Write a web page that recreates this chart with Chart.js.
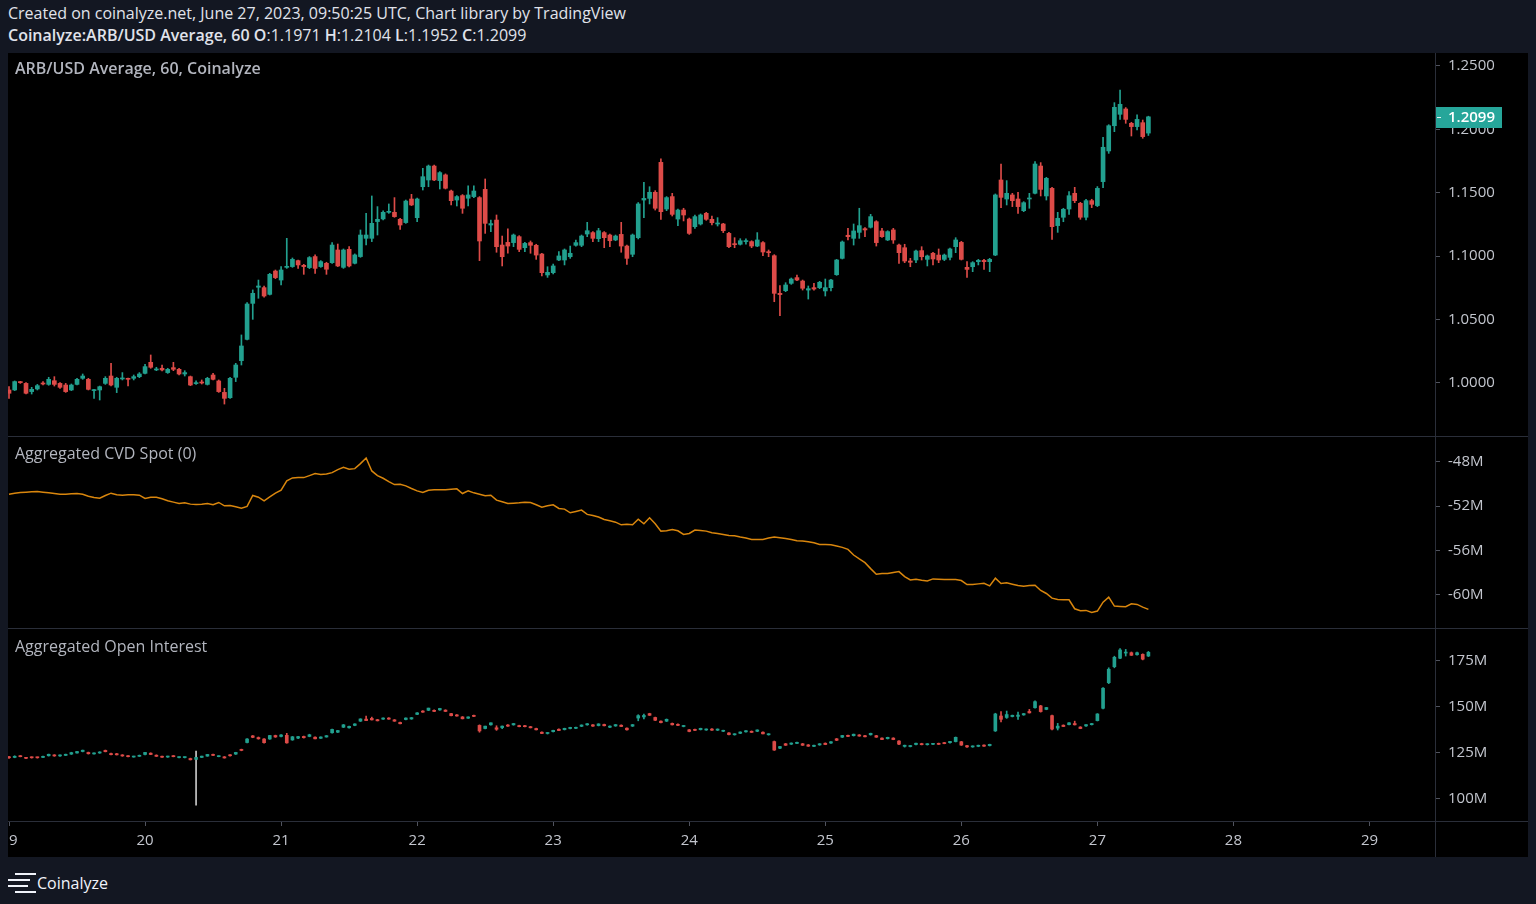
<!DOCTYPE html>
<html>
<head>
<meta charset="utf-8">
<script src="https://cdn.jsdelivr.net/npm/chart.js@4.4.1/dist/chart.umd.min.js"></script>
<style>
	html, body { margin: 0; padding: 0; }
	body { width: 1536px; height: 904px; background: #131722; position: relative; overflow: hidden; font-family: "Open Sans", sans-serif; }
	.line { position: absolute; left: 8px; font-size: 16px; line-height: 20px; color: #e0e3eb; white-space: nowrap; }
	.line b { font-weight: 600; }
	#frame { position: absolute; left: 8px; top: 53px; width: 1520px; height: 804px; background: #000; }
	.pane-title { position: absolute; left: 15px; font-size: 16px; line-height: 20px; color: #b2b5be; white-space: nowrap; }
	#footer { position: absolute; left: 37px; top: 873px; font-size: 16px; line-height: 20px; color: #f0f3fa; }
	.logo { position: absolute; height: 2px; background: #f0f3fa; }
</style>
</head>
<body>
<div class="line" style="top:3px">Created on coinalyze.net, June 27, 2023, 09:50:25 UTC, Chart library by TradingView</div>
<div class="line" style="top:25px"><b>Coinalyze:ARB/USD Average, 60 O</b>:1.1971 <b>H</b>:1.2104 <b>L</b>:1.1952 <b>C</b>:1.2099</div>
<div id="frame"><canvas id="chart" width="1520" height="804"></canvas></div>
<div class="pane-title" style="top:58px;font-weight:600">ARB/USD Average, 60, Coinalyze</div>
<div class="pane-title" style="top:443px">Aggregated CVD Spot (0)</div>
<div class="pane-title" style="top:636px">Aggregated Open Interest</div>
<div class="logo" style="left:15px;top:873px;width:21px"></div>
<div class="logo" style="left:8px;top:879px;width:22px"></div>
<div class="logo" style="left:8px;top:885px;width:20px"></div>
<div class="logo" style="left:15px;top:891px;width:21px"></div>
<div id="footer">Coinalyze</div>
<script>
// hourly candles, June 19 00:00 UTC .. June 27 09:00 UTC
const firstDay = 19;
const dayTicks = [19, 20, 21, 22, 23, 24, 25, 26, 27, 28, 29];
const priceTicks = [1.0, 1.05, 1.1, 1.15, 1.2, 1.25];
const cvdTicks = [-60, -56, -52, -48];
const oiTicks = [100, 125, 150, 175];

// ARB/USD [open, high, low, close]
const price = [
	[0.9945, 0.9971, 0.9879, 0.9919], [0.9945, 1.0016, 0.9940, 1.0011], [1.0008, 1.0013, 0.9997, 1.0003], [0.9997, 1.0003, 0.9913, 0.9919],
	[0.9932, 0.9966, 0.9913, 0.9950], [0.9953, 0.9989, 0.9945, 0.9979], [1.0000, 1.0011, 0.9984, 0.9992], [0.9989, 1.0045, 0.9982, 1.0029],
	[1.0018, 1.0050, 0.9976, 0.9989], [0.9997, 1.0003, 0.9958, 0.9966], [0.9984, 0.9997, 0.9926, 0.9932], [0.9945, 0.9992, 0.9940, 0.9984],
	[0.9989, 1.0037, 0.9984, 1.0029], [1.0037, 1.0071, 1.0029, 1.0055], [1.0029, 1.0037, 0.9945, 0.9950], [0.9940, 0.9950, 0.9879, 0.9945],
	[0.9945, 0.9976, 0.9866, 0.9971], [0.9997, 1.0050, 0.9989, 1.0037], [1.0055, 1.0155, 0.9976, 0.9984], [0.9966, 1.0045, 0.9924, 1.0037],
	[1.0032, 1.0082, 1.0024, 1.0039], [1.0034, 1.0039, 0.9976, 1.0029], [1.0037, 1.0063, 1.0024, 1.0050], [1.0050, 1.0082, 1.0042, 1.0071],
	[1.0076, 1.0147, 1.0071, 1.0129], [1.0163, 1.0221, 1.0116, 1.0124], [1.0103, 1.0124, 1.0097, 1.0110], [1.0116, 1.0142, 1.0095, 1.0103],
	[1.0082, 1.0116, 1.0076, 1.0108], [1.0121, 1.0163, 1.0097, 1.0108], [1.0108, 1.0116, 1.0063, 1.0071], [1.0071, 1.0097, 1.0055, 1.0082],
	[1.0050, 1.0055, 0.9979, 0.9984], [0.9995, 1.0018, 0.9989, 1.0000], [1.0008, 1.0024, 0.9992, 1.0000], [0.9989, 1.0045, 0.9984, 1.0037],
	[1.0063, 1.0076, 1.0024, 1.0029], [1.0016, 1.0024, 0.9926, 0.9932], [0.9926, 0.9958, 0.9834, 0.9879], [0.9884, 1.0045, 0.9879, 1.0037],
	[1.0045, 1.0155, 1.0011, 1.0142], [1.0176, 1.0379, 1.0142, 1.0292], [1.0344, 1.0634, 1.0339, 1.0623], [1.0628, 1.0734, 1.0502, 1.0707],
	[1.0755, 1.0812, 1.0668, 1.0765], [1.0752, 1.0765, 1.0676, 1.0686], [1.0699, 1.0865, 1.0694, 1.0857], [1.0883, 1.0891, 1.0823, 1.0831],
	[1.0812, 1.0918, 1.0773, 1.0891], [1.0912, 1.1141, 1.0904, 1.0920], [1.0918, 1.0986, 1.0912, 1.0975], [1.0965, 1.0970, 1.0904, 1.0931],
	[1.0928, 1.0936, 1.0857, 1.0918], [1.0910, 1.0997, 1.0902, 1.0989], [1.0997, 1.1010, 1.0865, 1.0904], [1.0918, 1.0965, 1.0912, 1.0957],
	[1.0944, 1.0952, 1.0857, 1.0897], [1.0949, 1.1107, 1.0944, 1.1088], [1.1049, 1.1096, 1.0918, 1.0923], [1.0912, 1.1057, 1.0904, 1.1049],
	[1.1054, 1.1075, 1.0915, 1.0923], [1.0944, 1.1018, 1.0939, 1.1010], [1.0997, 1.1207, 1.0991, 1.1167], [1.1141, 1.1338, 1.1088, 1.1167],
	[1.1141, 1.1475, 1.1115, 1.1259], [1.1273, 1.1391, 1.1167, 1.1291], [1.1294, 1.1357, 1.1286, 1.1346], [1.1346, 1.1412, 1.1338, 1.1354],
	[1.1346, 1.1462, 1.1307, 1.1312], [1.1291, 1.1299, 1.1212, 1.1246], [1.1265, 1.1443, 1.1259, 1.1435], [1.1451, 1.1488, 1.1399, 1.1404],
	[1.1304, 1.1459, 1.1273, 1.1451], [1.1548, 1.1693, 1.1522, 1.1627], [1.1601, 1.1719, 1.1548, 1.1711], [1.1711, 1.1719, 1.1596, 1.1601],
	[1.1596, 1.1667, 1.1530, 1.1659], [1.1641, 1.1649, 1.1530, 1.1536], [1.1514, 1.1522, 1.1404, 1.1438], [1.1443, 1.1478, 1.1396, 1.1470],
	[1.1478, 1.1486, 1.1338, 1.1378], [1.1457, 1.1554, 1.1396, 1.1483], [1.1470, 1.1554, 1.1462, 1.1514], [1.1462, 1.1470, 1.0965, 1.1120],
	[1.1527, 1.1609, 1.1180, 1.1259], [1.1246, 1.1285, 1.1193, 1.1257], [1.1285, 1.1325, 1.1031, 1.1075], [1.1088, 1.1159, 1.0923, 1.0996],
	[1.1109, 1.1215, 1.1023, 1.1080], [1.1107, 1.1175, 1.1075, 1.1167], [1.1154, 1.1162, 1.1036, 1.1054], [1.1067, 1.1109, 1.1036, 1.1101],
	[1.1107, 1.1120, 1.1023, 1.1086], [1.1086, 1.1094, 1.0975, 1.1009], [1.1017, 1.1023, 1.0844, 1.0870], [1.0852, 1.0917, 1.0833, 1.0873],
	[1.0870, 1.0938, 1.0860, 1.0923], [1.0970, 1.1036, 1.0965, 1.1002], [1.0970, 1.1057, 1.0931, 1.1049], [1.0996, 1.1080, 1.0983, 1.1023],
	[1.1086, 1.1128, 1.1080, 1.1107], [1.1086, 1.1167, 1.1075, 1.1159], [1.1175, 1.1267, 1.1154, 1.1201], [1.1186, 1.1194, 1.1115, 1.1141],
	[1.1138, 1.1220, 1.1115, 1.1201], [1.1186, 1.1194, 1.1067, 1.1146], [1.1167, 1.1175, 1.1075, 1.1122], [1.1128, 1.1167, 1.1122, 1.1159],
	[1.1172, 1.1267, 1.1031, 1.1080], [1.1080, 1.1088, 1.0936, 1.0983], [1.1015, 1.1175, 1.0996, 1.1167], [1.1146, 1.1423, 1.1136, 1.1412],
	[1.1443, 1.1583, 1.1304, 1.1456], [1.1456, 1.1548, 1.1412, 1.1504], [1.1504, 1.1517, 1.1364, 1.1378], [1.1740, 1.1767, 1.1291, 1.1351],
	[1.1372, 1.1470, 1.1359, 1.1462], [1.1470, 1.1496, 1.1317, 1.1330], [1.1293, 1.1372, 1.1241, 1.1364], [1.1364, 1.1378, 1.1278, 1.1325],
	[1.1293, 1.1301, 1.1172, 1.1180], [1.1233, 1.1325, 1.1220, 1.1312], [1.1254, 1.1333, 1.1246, 1.1325], [1.1338, 1.1346, 1.1283, 1.1291],
	[1.1291, 1.1317, 1.1246, 1.1264], [1.1254, 1.1304, 1.1238, 1.1262], [1.1254, 1.1259, 1.1186, 1.1201], [1.1180, 1.1188, 1.1067, 1.1075],
	[1.1099, 1.1146, 1.1067, 1.1091], [1.1094, 1.1138, 1.1088, 1.1122], [1.1115, 1.1136, 1.1094, 1.1122], [1.1115, 1.1122, 1.1067, 1.1080],
	[1.1080, 1.1186, 1.1075, 1.1128], [1.1107, 1.1115, 1.1004, 1.1033], [1.1036, 1.1049, 1.0996, 1.1028], [1.1004, 1.1012, 1.0641, 1.0707],
	[1.0707, 1.0768, 1.0531, 1.0697], [1.0728, 1.0791, 1.0720, 1.0773], [1.0786, 1.0828, 1.0778, 1.0820], [1.0831, 1.0852, 1.0807, 1.0812],
	[1.0804, 1.0812, 1.0733, 1.0747], [1.0733, 1.0765, 1.0662, 1.0744], [1.0752, 1.0786, 1.0733, 1.0741], [1.0752, 1.0802, 1.0744, 1.0794],
	[1.0726, 1.0820, 1.0686, 1.0752], [1.0752, 1.0818, 1.0726, 1.0812], [1.0854, 1.0975, 1.0849, 1.0970], [1.0983, 1.1120, 1.0978, 1.1112],
	[1.1165, 1.1220, 1.1128, 1.1154], [1.1141, 1.1254, 1.1088, 1.1199], [1.1188, 1.1378, 1.1141, 1.1241], [1.1217, 1.1225, 1.1154, 1.1207],
	[1.1228, 1.1330, 1.1222, 1.1312], [1.1272, 1.1280, 1.1080, 1.1107], [1.1199, 1.1220, 1.1149, 1.1154], [1.1128, 1.1201, 1.1123, 1.1194],
	[1.1207, 1.1220, 1.1101, 1.1128], [1.1088, 1.1096, 1.0944, 1.1028], [1.1067, 1.1094, 1.0949, 1.0962], [1.0962, 1.0983, 1.0917, 1.0952],
	[1.0970, 1.1049, 1.0949, 1.1041], [1.1044, 1.1075, 1.0970, 1.0996], [1.0975, 1.1009, 1.0923, 1.1002], [1.1023, 1.1031, 1.0931, 1.0978],
	[1.1009, 1.1057, 1.0949, 1.0970], [1.0975, 1.1017, 1.0965, 1.1009], [1.0991, 1.1065, 1.0970, 1.1057], [1.1075, 1.1146, 1.1028, 1.1128],
	[1.1109, 1.1117, 1.0970, 1.0975], [1.0912, 1.0957, 1.0833, 1.0896], [1.0917, 1.0957, 1.0878, 1.0949], [1.0957, 1.0975, 1.0931, 1.0967],
	[1.0967, 1.0975, 1.0896, 1.0957], [1.0957, 1.0983, 1.0878, 1.0975], [1.1009, 1.1491, 1.1004, 1.1483], [1.1601, 1.1727, 1.1383, 1.1464],
	[1.1451, 1.1596, 1.1404, 1.1496], [1.1483, 1.1496, 1.1391, 1.1438], [1.1451, 1.1504, 1.1338, 1.1391], [1.1359, 1.1430, 1.1351, 1.1422],
	[1.1451, 1.1496, 1.1378, 1.1459], [1.1496, 1.1746, 1.1491, 1.1727], [1.1711, 1.1738, 1.1475, 1.1527], [1.1475, 1.1622, 1.1443, 1.1614],
	[1.1535, 1.1543, 1.1133, 1.1233], [1.1241, 1.1346, 1.1188, 1.1299], [1.1307, 1.1378, 1.1272, 1.1370], [1.1372, 1.1509, 1.1330, 1.1477],
	[1.1496, 1.1543, 1.1422, 1.1438], [1.1417, 1.1425, 1.1291, 1.1307], [1.1307, 1.1449, 1.1286, 1.1438], [1.1438, 1.1449, 1.1383, 1.1409],
	[1.1399, 1.1549, 1.1391, 1.1535], [1.1588, 1.1937, 1.1540, 1.1859], [1.1830, 1.2037, 1.1811, 1.2029], [1.2029, 1.2211, 1.1982, 1.2174],
	[1.2119, 1.2311, 1.2079, 1.2198], [1.2161, 1.2172, 1.2048, 1.2079], [1.2048, 1.2056, 1.1948, 1.2022], [1.2022, 1.2114, 1.1995, 1.2079],
	[1.2053, 1.2074, 1.1930, 1.1943], [1.1971, 1.2104, 1.1952, 1.2099],
];

// aggregated spot CVD, millions
const cvd = [
	-50.91, -50.82, -50.76, -50.73, -50.70, -50.67, -50.73, -50.79, -50.85, -50.91,
	-50.91, -50.88, -50.85, -50.91, -51.09, -51.21, -51.27, -51.03, -50.82, -50.97,
	-51.00, -50.97, -50.97, -51.00, -51.30, -51.18, -51.18, -51.33, -51.51, -51.63,
	-51.75, -51.69, -51.81, -51.84, -51.81, -51.75, -51.87, -51.66, -51.96, -51.93,
	-52.05, -52.17, -52.02, -51.03, -51.18, -51.51, -51.15, -50.82, -50.55, -49.71,
	-49.44, -49.41, -49.41, -49.23, -49.05, -49.14, -49.08, -48.96, -48.69, -48.48,
	-48.66, -48.60, -48.15, -47.64, -48.81, -49.23, -49.47, -49.77, -50.04, -50.01,
	-50.16, -50.40, -50.61, -50.76, -50.55, -50.52, -50.52, -50.52, -50.46, -50.43,
	-50.85, -50.61, -50.79, -50.91, -51.06, -51.00, -51.45, -51.60, -51.75, -51.72,
	-51.69, -51.63, -51.66, -51.87, -52.08, -51.96, -51.87, -52.20, -52.26, -52.59,
	-52.47, -52.35, -52.74, -52.83, -52.98, -53.20, -53.32, -53.44, -53.68, -53.62,
	-53.68, -53.17, -53.59, -53.05, -53.59, -54.25, -54.22, -54.10, -54.22, -54.55,
	-54.46, -54.16, -54.19, -54.25, -54.40, -54.46, -54.55, -54.64, -54.67, -54.79,
	-54.88, -55.00, -55.00, -55.00, -54.88, -54.79, -54.85, -54.91, -55.00, -55.12,
	-55.15, -55.21, -55.30, -55.45, -55.45, -55.48, -55.60, -55.72, -55.90, -56.41,
	-56.77, -57.10, -57.64, -58.15, -58.09, -58.09, -58.00, -57.91, -58.36, -58.66,
	-58.60, -58.69, -58.75, -58.57, -58.60, -58.63, -58.63, -58.63, -58.72, -59.08,
	-59.08, -59.02, -58.96, -59.20, -58.51, -58.99, -58.93, -59.05, -59.17, -59.23,
	-59.17, -59.14, -59.62, -59.89, -60.31, -60.43, -60.46, -60.46, -61.27, -61.45,
	-61.42, -61.60, -61.48, -60.67, -60.22, -61.03, -61.06, -61.09, -60.82, -60.88,
	-61.12, -61.33,
];

// aggregated open interest, millions [open, high, low, close]
const oi = [
	[122.9, 123.2, 122.0, 122.4], [122.6, 123.5, 122.4, 123.2], [123.4, 123.6, 122.9, 123.0], [122.2, 122.5, 121.9, 122.1],
	[122.7, 122.9, 122.2, 122.4], [122.6, 122.8, 122.2, 122.4], [122.6, 123.3, 122.5, 123.2], [123.5, 124.4, 123.3, 124.3],
	[123.9, 124.1, 123.2, 123.4], [123.4, 124.0, 123.2, 123.9], [123.7, 124.4, 123.6, 124.3], [124.4, 125.4, 124.2, 125.2],
	[125.0, 125.9, 124.9, 125.8], [125.8, 126.6, 125.6, 126.5], [125.3, 125.5, 124.4, 124.6], [124.5, 125.1, 124.3, 125.0],
	[125.0, 125.7, 124.8, 125.5], [126.4, 126.6, 125.6, 125.7], [124.7, 124.9, 123.9, 124.1], [124.6, 124.8, 123.9, 124.0],
	[123.9, 124.1, 123.2, 123.4], [123.4, 123.6, 122.9, 123.0], [122.8, 123.3, 122.7, 123.1], [123.2, 123.9, 123.1, 123.7],
	[124.2, 125.4, 124.0, 125.3], [124.9, 125.1, 124.1, 124.2], [123.8, 124.0, 123.1, 123.2], [123.1, 123.3, 122.6, 122.7],
	[122.8, 123.3, 122.6, 123.1], [123.4, 123.6, 122.9, 123.0], [122.5, 122.9, 122.3, 122.8], [122.5, 122.9, 122.3, 122.8],
	[122.0, 122.2, 121.2, 121.3], [121.5, 126.1, 96.7, 122.6], [122.6, 123.3, 122.5, 123.3], [123.3, 124.2, 123.2, 124.2],
	[124.2, 124.4, 123.6, 123.7], [123.0, 123.5, 122.9, 123.4], [122.9, 123.1, 122.2, 122.3], [124.0, 124.2, 123.3, 123.5],
	[124.4, 125.4, 124.2, 125.3], [126.9, 127.1, 126.2, 126.4], [130.7, 132.8, 130.5, 132.6], [134.3, 134.5, 133.3, 133.5],
	[133.4, 133.7, 132.5, 132.7], [132.6, 132.8, 130.4, 130.6], [132.6, 134.6, 132.4, 134.5], [134.5, 134.7, 133.5, 133.7],
	[134.0, 135.0, 133.8, 134.8], [134.6, 135.7, 130.3, 130.5], [132.1, 134.0, 131.9, 133.8], [133.1, 134.1, 132.8, 133.9],
	[134.0, 134.2, 133.1, 133.3], [134.0, 135.2, 133.8, 134.9], [133.6, 133.8, 132.6, 132.7], [133.0, 133.8, 132.9, 133.7],
	[133.7, 134.5, 133.6, 134.4], [136.0, 138.0, 135.8, 137.8], [136.3, 137.3, 136.1, 137.2], [139.0, 140.5, 138.8, 140.3],
	[138.7, 139.6, 138.5, 139.5], [140.0, 140.9, 139.8, 140.8], [142.3, 143.6, 142.1, 143.5], [143.4, 145.0, 142.5, 142.6],
	[143.8, 144.5, 142.9, 143.0], [143.1, 143.3, 142.4, 142.5], [143.4, 144.1, 143.2, 144.0], [144.0, 144.2, 143.3, 143.4],
	[143.0, 143.2, 142.2, 142.3], [141.6, 141.8, 140.8, 140.9], [143.2, 144.1, 143.0, 144.0], [143.5, 144.3, 143.3, 144.2],
	[146.0, 146.9, 145.8, 146.8], [147.8, 148.0, 147.1, 147.2], [148.2, 149.4, 148.0, 149.4], [148.2, 148.4, 147.5, 147.6],
	[148.4, 149.3, 148.2, 149.2], [148.3, 148.5, 147.5, 147.6], [146.4, 146.6, 145.2, 145.3], [145.7, 145.9, 145.0, 145.1],
	[144.6, 144.8, 143.5, 143.6], [143.9, 144.6, 143.8, 144.6], [145.4, 145.6, 144.8, 144.9], [140.0, 140.3, 136.3, 137.0],
	[138.3, 139.6, 138.1, 139.6], [140.3, 141.4, 140.1, 141.4], [138.7, 139.8, 137.3, 137.9], [138.8, 139.7, 138.2, 139.6],
	[140.2, 140.4, 139.5, 139.6], [140.3, 141.1, 140.1, 141.0], [139.9, 140.1, 139.2, 139.3], [139.8, 140.0, 139.2, 139.3],
	[139.3, 139.5, 138.6, 138.7], [138.3, 138.5, 137.5, 137.6], [136.3, 136.5, 135.5, 135.6], [135.6, 136.2, 135.3, 136.1],
	[136.6, 137.4, 136.4, 137.3], [137.9, 138.1, 137.1, 137.2], [137.7, 138.5, 137.5, 138.4], [138.3, 139.0, 138.1, 138.9],
	[138.4, 139.1, 138.2, 138.9], [139.5, 140.3, 139.3, 140.2], [140.3, 141.0, 140.1, 140.9], [140.3, 140.5, 139.5, 139.6],
	[139.9, 140.9, 139.7, 140.8], [140.5, 140.7, 139.7, 139.8], [139.0, 139.7, 138.7, 139.6], [139.7, 140.5, 139.5, 140.4],
	[140.1, 140.3, 139.3, 139.4], [138.5, 138.7, 137.4, 137.6], [139.6, 140.5, 139.4, 140.4], [144.0, 145.8, 142.5, 145.3],
	[144.6, 146.2, 143.5, 145.4], [146.4, 146.6, 145.4, 145.5], [144.3, 144.5, 142.6, 142.8], [142.3, 142.5, 141.4, 141.5],
	[142.3, 143.5, 142.1, 143.3], [141.1, 141.3, 140.2, 140.3], [140.6, 140.8, 139.9, 140.0], [139.4, 140.0, 139.2, 139.9],
	[137.6, 137.8, 136.5, 136.7], [137.8, 138.0, 137.1, 137.3], [137.7, 138.5, 137.5, 138.4], [137.5, 138.1, 137.3, 138.0],
	[138.0, 138.2, 137.3, 137.4], [137.4, 138.1, 137.2, 138.0], [136.8, 137.4, 136.6, 137.3], [135.9, 136.1, 134.8, 135.0],
	[134.9, 135.5, 134.7, 135.4], [135.7, 136.5, 135.5, 136.4], [136.5, 137.2, 136.3, 137.1], [136.8, 137.0, 136.1, 136.2],
	[136.8, 137.6, 136.6, 137.5], [136.3, 136.5, 135.3, 135.4], [134.9, 135.5, 134.7, 135.4], [131.2, 131.5, 126.4, 126.6],
	[127.6, 128.6, 127.4, 128.5], [130.0, 130.2, 129.1, 129.2], [129.8, 130.5, 129.6, 130.4], [130.2, 130.9, 130.0, 130.8],
	[130.0, 130.2, 129.1, 129.2], [129.4, 129.6, 128.6, 128.7], [128.6, 129.3, 128.4, 129.2], [129.4, 130.1, 129.2, 130.0],
	[130.3, 130.5, 129.5, 129.6], [130.4, 131.2, 130.2, 131.1], [132.7, 132.9, 131.7, 131.9], [133.6, 134.6, 133.4, 134.5],
	[134.6, 134.8, 133.9, 134.0], [134.4, 135.3, 134.2, 135.2], [134.8, 135.0, 134.1, 134.2], [134.4, 134.6, 133.7, 133.8],
	[134.9, 135.8, 134.7, 135.7], [134.4, 134.6, 133.5, 133.6], [133.1, 133.3, 132.2, 132.3], [132.8, 133.6, 132.6, 133.5],
	[133.1, 133.3, 132.2, 132.3], [131.5, 131.7, 129.5, 129.8], [128.6, 129.3, 128.2, 129.2], [128.5, 129.1, 128.3, 129.0],
	[129.6, 130.4, 129.4, 130.3], [130.1, 130.3, 129.4, 129.5], [129.5, 130.1, 129.3, 130.0], [129.7, 130.3, 129.5, 130.2],
	[130.2, 130.4, 129.6, 129.7], [130.6, 130.8, 130.0, 130.1], [130.6, 131.4, 130.4, 131.3], [131.2, 133.7, 131.0, 133.5],
	[131.1, 131.3, 129.1, 129.3], [129.0, 129.2, 128.0, 128.3], [128.3, 128.9, 128.1, 128.8], [128.6, 129.3, 128.4, 129.2],
	[129.3, 129.5, 128.6, 128.7], [129.0, 129.8, 128.8, 129.7], [137.0, 146.6, 136.7, 146.2], [145.1, 147.5, 141.9, 143.3],
	[144.3, 147.8, 143.8, 145.9], [144.8, 145.6, 144.6, 145.5], [144.9, 147.2, 143.3, 145.6], [145.7, 146.5, 145.5, 146.4],
	[147.6, 148.7, 146.7, 146.8], [149.6, 153.4, 149.4, 152.9], [150.6, 150.9, 147.2, 147.5], [148.7, 149.8, 148.5, 149.7],
	[145.3, 145.6, 137.6, 138.0], [138.5, 141.1, 137.5, 139.6], [140.1, 140.3, 139.3, 139.4], [140.4, 141.5, 140.2, 141.4],
	[141.0, 142.3, 140.2, 140.3], [139.1, 139.3, 138.2, 138.3], [139.7, 140.5, 139.5, 140.4], [140.4, 141.1, 140.2, 141.0],
	[142.6, 146.4, 142.4, 146.2], [149.3, 160.6, 148.9, 160.2], [163.2, 171.3, 162.7, 170.5], [171.9, 177.6, 171.3, 177.0],
	[176.5, 181.8, 176.2, 181.0], [179.3, 181.3, 177.7, 179.7], [179.5, 179.9, 178.0, 178.1], [178.4, 179.8, 178.1, 179.5],
	[178.6, 178.9, 175.6, 176.0], [177.7, 180.2, 177.4, 179.7],
];

const up = "#22a08f";
const down = "#dd4b48";
const axisText = "#c3c6ce";
const sep = "#2a2e39";

const times = price.map((_, i) => firstDay + i / 24);
const candleColor = (d) => (d[3] >= d[0] ? up : down);

const bodies = (rows) => rows.map((d, i) => ({ x: times[i], y: [d[0], d[3]] }));
const wicks = (rows) => rows.map((d, i) => ({ x: times[i], y: [d[2], d[1]] }));

const paneAxis = (weight, min, max, ticks, format) => ({
	position: "right",
	stack: "panes",
	stackWeight: weight,
	min,
	max,
	afterBuildTicks: (scale) => {
		scale.ticks = ticks.map((value) => ({ value }));
	},
	afterFit: (scale) => {
		scale.width = 93;
		scale.paddingTop = 0;
		scale.paddingBottom = 0;
	},
	ticks: {
		color: axisText,
		font: { family: "Open Sans", size: 15 },
		padding: 8,
		callback: format,
	},
	grid: { drawOnChartArea: false, drawTicks: true, tickLength: 5, color: "#50535e" },
	border: { display: false },
});

const panes = {
	id: "panes",
	beforeDraw: (chart) => {
		const { ctx } = chart;
		ctx.save();
		ctx.fillStyle = "#000";
		ctx.fillRect(0, 0, chart.width, chart.height);
		ctx.restore();
	},
	afterDraw: (chart) => {
		const { ctx, chartArea, scales } = chart;
		ctx.save();
		ctx.strokeStyle = sep;
		ctx.lineWidth = 1;
		ctx.beginPath();
		[scales.yPrice.bottom, scales.yCvd.bottom, chartArea.bottom].forEach((y) => {
			ctx.moveTo(0, Math.round(y) + 0.5);
			ctx.lineTo(chart.width, Math.round(y) + 0.5);
		});
		ctx.moveTo(Math.round(chartArea.right) + 0.5, 0);
		ctx.lineTo(Math.round(chartArea.right) + 0.5, chart.height);
		ctx.stroke();

		// last price tag
		const last = price[price.length - 1][3];
		const y = scales.yPrice.getPixelForValue(last);
		const x = chartArea.right + 1;
		ctx.fillStyle = "#26a69a";
		ctx.fillRect(x, Math.round(y) - 10, 66, 21);
		ctx.strokeStyle = "#e8f5f3";
		ctx.beginPath();
		ctx.moveTo(x + 1, Math.round(y) + 0.5);
		ctx.lineTo(x + 5, Math.round(y) + 0.5);
		ctx.stroke();
		ctx.fillStyle = "#fff";
		ctx.font = "600 15px 'Open Sans'";
		ctx.textBaseline = "middle";
		ctx.fillText(last.toFixed(4), x + 12, Math.round(y) + 1);
		ctx.restore();
	},
};

const ctx = document.getElementById("chart").getContext("2d");

window.chart = new Chart(ctx, {
	type: "bar",
	data: {
		datasets: [
			{
				data: bodies(price),
				yAxisID: "yPrice",
				backgroundColor: price.map(candleColor),
				barThickness: 4,
				minBarLength: 1,
				grouped: false,
				order: 1,
			},
			{
				data: wicks(price),
				yAxisID: "yPrice",
				backgroundColor: price.map(candleColor),
				barThickness: 1,
				grouped: false,
				order: 2,
			},
			{
				type: "line",
				data: cvd.map((v, i) => ({ x: times[i], y: v })),
				yAxisID: "yCvd",
				borderColor: "#d9860d",
				borderWidth: 1.5,
				pointRadius: 0,
				tension: 0,
				order: 0,
			},
			{
				data: bodies(oi),
				yAxisID: "yOi",
				backgroundColor: oi.map(candleColor),
				barThickness: 3,
				minBarLength: 1,
				grouped: false,
				order: 1,
			},
			{
				data: wicks(oi),
				yAxisID: "yOi",
				backgroundColor: oi.map((d, i) => (i === 33 ? "#c8c8c8" : candleColor(d))),
				barThickness: 1,
				grouped: false,
				order: 2,
			},
		],
	},
	options: {
		responsive: false,
		animation: false,
		devicePixelRatio: 1,
		layout: { padding: 0 },
		plugins: { legend: { display: false }, tooltip: { enabled: false } },
		events: [],
		scales: {
			x: {
				type: "linear",
				offset: false,
				min: 18.9926,
				max: 29.4816,
				afterBuildTicks: (scale) => {
					scale.ticks = dayTicks.map((value) => ({ value }));
				},
				afterFit: (scale) => {
					scale.height = 36;
					scale.paddingLeft = 0;
					scale.paddingRight = 0;
				},
				ticks: {
					color: axisText,
					font: { family: "Open Sans", size: 15 },
					padding: 6,
					maxRotation: 0,
					autoSkip: false,
					callback: (v) => String(v),
				},
				grid: { offset: false, drawOnChartArea: false, drawTicks: true, tickLength: 5, color: "#50535e" },
				border: { display: false },
			},
			yPrice: paneAxis(383, 0.9582, 1.26025, priceTicks, (v) => v.toFixed(4)),
			yCvd: paneAxis(192, -63.01, -45.65, cvdTicks, (v) => v + "M"),
			yOi: paneAxis(193, 88.04, 192.93, oiTicks, (v) => v + "M"),
		},
	},
	plugins: [panes],
});
</script>
</body>
</html>
